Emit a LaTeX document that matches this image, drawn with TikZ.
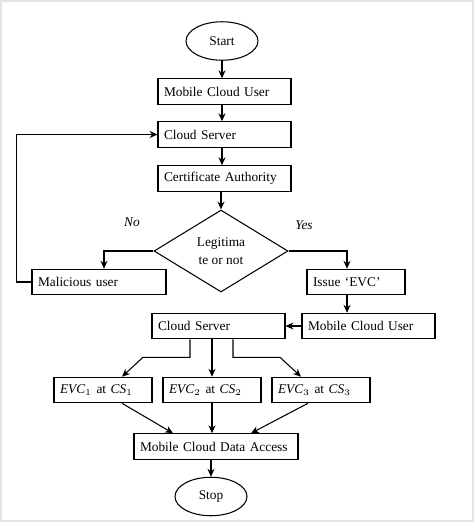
\documentclass[tikz,border=0pt]{standalone}
\usepackage{fontspec}
\setmainfont{Liberation Serif}
\usepackage{tikz}
\definecolor{frame}{HTML}{E4E4E4}
\usetikzlibrary{arrows.meta,shapes.geometric,calc}

\begin{document}
\begin{tikzpicture}[x=0.02cm,y=-0.02cm,
  every node/.style={font=\fontsize{7.6}{10}\selectfont},
  box/.style={draw,rectangle,line width=0.6pt,minimum height=0.51cm,
              inner xsep=0.12cm,inner ysep=0pt,text width=#1,align=left},
  term/.style={draw,ellipse,line width=0.6pt,minimum width=1.44cm,
               minimum height=0.77cm,inner sep=0pt},
  dec/.style={draw,diamond,line width=0.6pt,minimum width=2.68cm,
              minimum height=1.64cm,aspect=1.63,inner sep=0pt,align=center},
  lbl/.style={font=\fontsize{7.6}{10}\selectfont\itshape},
  arr/.style={-{Stealth[length=4.5pt,width=4pt]},line width=0.6pt}]
  \useasboundingbox (0,0) rectangle (474,522);
  \draw[frame,line width=1.2pt] (1,1) rectangle (473,521);
  \node[term] (st) at (222,41){Start};
  \node[box=2.42cm] (mcu)  at (224.5,91.5){Mobile Cloud User};
  \node[box=2.42cm] (cs)   at (224.5,134.5){Cloud Server};
  \node[box=2.42cm] (ca)   at (224.5,178.5){Certificate Authority};
  \node[dec]        (legit)at (221,251){Legitima\\te or not};
  \node[box=2.44cm] (mal)  at (99,282){Malicious user};
  \node[box=1.72cm] (evc)  at (356,282){Issue `EVC'};
  \node[box=2.42cm] (mcu2) at (368.5,326){Mobile Cloud User};
  \node[box=2.42cm] (cs2)  at (218.5,326){Cloud Server};
  \node[box=1.72cm] (e1)   at (103,390){$\mathit{EVC}_1$ at $\mathit{CS}_1$};
  \node[box=1.72cm] (e2)   at (212,390){$\mathit{EVC}_2$ at $\mathit{CS}_2$};
  \node[box=1.72cm] (e3)   at (321,390){$\mathit{EVC}_3$ at $\mathit{CS}_3$};
  \node[box=3.04cm] (mcda) at (216,446.5){Mobile Cloud Data Access};
  \node[term] (sp) at (211,496.5){Stop};
  \node[lbl] (no)  at (132,222){No};
  \node[lbl] (yes) at (304,225){Yes};
  % main column
  \draw[arr](st.south)--(st.south |- mcu.north);
  \draw[arr](mcu.south -| st.south)--(cs.north -| st.south);
  \draw[arr](cs.south -| st.south)--(ca.north -| st.south);
  \draw[arr](ca.south -| legit.north)--(legit.north);
  % decision
  \draw[arr](legit.west)-|($(mal.north)+(5,0)$);
  \draw[arr](legit.east)-|($(evc.north)+(-9,0)$);
  \draw[arr](mal.west)--++(-15,0)|-(cs.west);
  \coordinate (p1) at ($(evc.south)+(-9,0)$);
  \draw[arr](p1)--(p1 |- mcu2.north);
  \draw[arr](mcu2.west)--(cs2.east);
  % fan out / in
  \draw[arr]($(cs2.south)+(-28.5,0)$)--++(0,18)--++(-47,0)--($(e1.north)+(19,0)$);
  \draw[arr](cs2.south -| e2.north)--(e2.north);
  \draw[arr]($(cs2.south)+(14.5,0)$)--++(0,18)--++(47,0)--($(e3.north)+(-20,0)$);
  \draw[arr]($(e1.south)+(19,0)$)--($(mcda.north)+(-43,0)$);
  \draw[arr](e2.south)--(e2.south |- mcda.north);
  \draw[arr]($(e3.south)+(-13,0)$)--($(mcda.north)+(35,0)$);
  \draw[arr](mcda.south -| sp.north)--(sp.north);
\end{tikzpicture}
\end{document}
